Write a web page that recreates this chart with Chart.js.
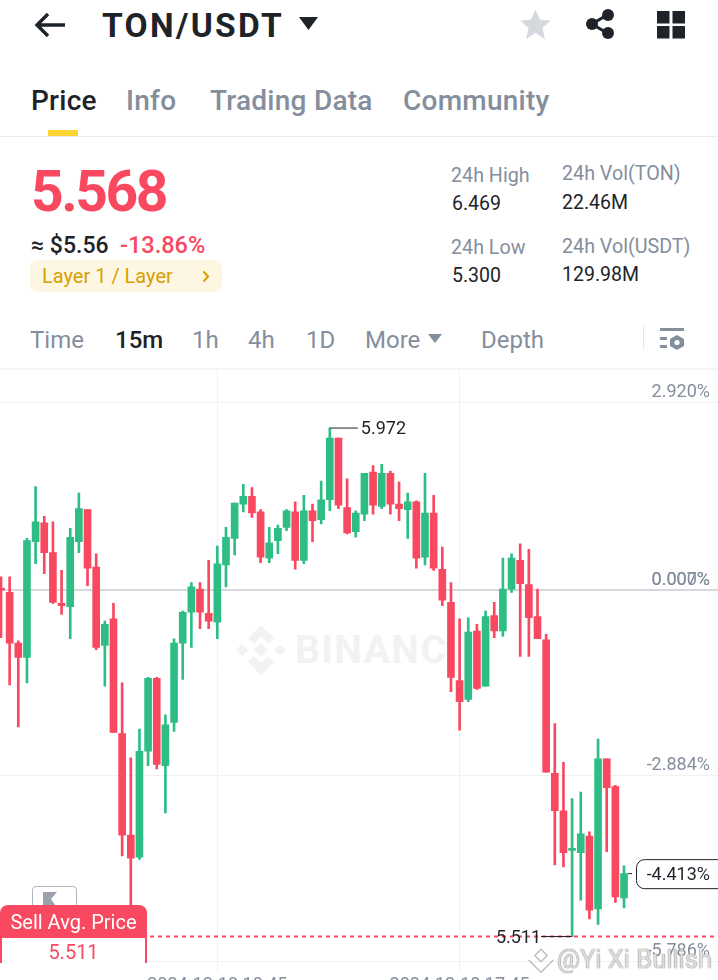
<!DOCTYPE html>
<html>
<head>
<meta charset="utf-8">
<script src="https://cdn.jsdelivr.net/npm/chart.js@4"></script>
<style>
html, body { margin: 0; padding: 0; background: #fff; }
#page { position: relative; width: 718px; height: 980px; overflow: hidden; font-family: Roboto, sans-serif; background: #fff; }
.t { position: absolute; white-space: nowrap; line-height: 1; }
.gray { color: #848E9C; }
.dark { color: #1E2329; }
.red { color: #F84960; }
.tab { font-size: 28px; font-weight: 500; top: 87px; letter-spacing: 0.25px; }
.stat { font-size: 19.7px; }
.val { font-size: 19.5px; color: #1E2329; }
.iv { font-size: 24px; top: 328px; color: #848E9C; }
#chart { position: absolute; left: 0; top: 367px; }
#mark { position: absolute; left: 235px; top: 622px; width: 215px; height: 56px; overflow: hidden; }
#mark span { position: absolute; left: 60px; top: 4px; font-size: 39px; font-weight: 700; color: #F1F2F3; letter-spacing: 1.5px; line-height: 48px; white-space: nowrap; }
#sell { position: absolute; left: 0; top: 905px; width: 147px; height: 58px; }
#sell .head { height: 33px; background: #F84960; border-radius: 8px 8px 0 0; color: #fff; font-size: 20px; line-height: 35px; text-align: center; }
#sell .body { height: 25px; background: #fff; border-left: 2px solid #F84960; border-right: 2px solid #F84960; box-sizing: border-box; color: #F84960; font-size: 20px; line-height: 28px; text-align: center; }
#flagbox { position: absolute; left: 32px; top: 886px; width: 43px; height: 30px; border: 1px solid #AEB4BC; border-radius: 4px; background: #fff; }
#wm { position: absolute; left: 557px; top: 944px; font-size: 25.5px; color: rgba(255,255,255,0.75); text-shadow: 0 0 1px #777, 0 0 1px #777; white-space: nowrap; line-height: 30px; }
</style>
</head>
<body>
<div id="page">
  <svg class="t" style="left:34px;top:11px" width="32" height="28" viewBox="0 0 32 28"><path d="M14 3 L3 14 L14 25 M3 14 H31" fill="none" stroke="#1E2329" stroke-width="3.4"/></svg>
  <div class="t dark" style="left:102px;top:9px;font-size:33.5px;font-weight:700;letter-spacing:2.3px">TON/USDT</div>
  <svg class="t" style="left:299px;top:17px" width="20" height="14"><path d="M0 0 H19 L9.5 13 Z" fill="#1E2329"/></svg>
  <svg class="t" style="left:519px;top:8px" width="33" height="33" viewBox="0 0 24 24"><path d="M12 1 L15.2 8.4 L23 9.2 L17 14.5 L18.9 22.5 L12 18.2 L5.1 22.5 L7 14.5 L1 9.2 L8.8 8.4 Z" fill="#D5D9DE"/></svg>
  <svg class="t" style="left:585px;top:8px" width="30" height="32" viewBox="0 0 30 32"><path d="M22 7 L7 16 L22 25" fill="none" stroke="#1E2329" stroke-width="3"/><circle cx="23" cy="7" r="6" fill="#1E2329"/><circle cx="7" cy="16" r="6" fill="#1E2329"/><circle cx="23" cy="25" r="6" fill="#1E2329"/></svg>
  <svg class="t" style="left:657px;top:11px" width="28" height="28"><rect width="12.5" height="12.5" fill="#1E2329"/><rect x="15.5" width="12.5" height="12.5" fill="#1E2329"/><rect y="15" width="12.5" height="12.5" fill="#1E2329"/><rect x="15.5" y="15" width="12.5" height="12.5" fill="#1E2329"/></svg>

  <div class="t tab dark" style="left:31px">Price</div>
  <div class="t tab gray" style="left:126px">Info</div>
  <div class="t tab gray" style="left:210px">Trading Data</div>
  <div class="t tab gray" style="left:403px">Community</div>
  <div class="t" style="left:48px;top:130px;width:30px;height:6px;background:#FCD535"></div>
  <div class="t" style="left:0;top:136px;width:718px;height:1px;background:#EAECEF"></div>

  <div class="t red" style="left:31px;top:163px;font-size:57px;font-weight:700;letter-spacing:-2.5px">5.568</div>
  <div class="t dark" style="left:31px;top:234px;font-size:23px;font-weight:500">≈ $5.56</div>
  <div class="t red" style="left:120px;top:234px;font-size:23.5px;font-weight:500">-13.86%</div>
  <div class="t" style="left:30px;top:260px;width:192px;height:32px;background:#FDF6E3;border-radius:8px"></div>
  <div class="t" style="left:42px;top:266px;font-size:20px;color:#D89F00">Layer 1 / Layer</div>
  <svg class="t" style="left:202px;top:270px" width="8" height="13"><path d="M1.5 1.5 L6 6.5 L1.5 11.5" fill="none" stroke="#D89F00" stroke-width="2"/></svg>

  <div class="t stat gray" style="left:451px;top:166px">24h High</div>
  <div class="t val" style="left:452px;top:194px">6.469</div>
  <div class="t stat gray" style="left:451px;top:238px">24h Low</div>
  <div class="t val" style="left:452px;top:266px">5.300</div>
  <div class="t stat gray" style="left:562px;top:164px">24h Vol(TON)</div>
  <div class="t val" style="left:562px;top:193px">22.46M</div>
  <div class="t stat gray" style="left:562px;top:237px">24h Vol(USDT)</div>
  <div class="t val" style="left:562px;top:265px">129.98M</div>

  <div class="t iv" style="left:30px">Time</div>
  <div class="t iv" style="left:115px;color:#1E2329;font-weight:500">15m</div>
  <div class="t iv" style="left:192px">1h</div>
  <div class="t iv" style="left:248px">4h</div>
  <div class="t iv" style="left:306px">1D</div>
  <div class="t iv" style="left:365px">More</div>
  <svg class="t" style="left:428px;top:334px" width="14" height="10"><path d="M0 0 H14 L7 9 Z" fill="#848E9C"/></svg>
  <div class="t iv" style="left:481px">Depth</div>
  <div class="t" style="left:643px;top:326px;width:1px;height:24px;background:#E6E8EA"></div>
  <svg class="t" style="left:660px;top:327px" width="26" height="24"><rect x="0" y="1" width="24" height="3" fill="#848E9C"/><rect x="0" y="10" width="7" height="3" fill="#848E9C"/><rect x="0" y="18" width="7" height="3" fill="#848E9C"/><path d="M17 8 L24 12 V19 L17 23 L10 19 V12 Z" fill="#848E9C"/><circle cx="17" cy="15.5" r="2.6" fill="#fff"/></svg>
  <div class="t" style="left:0;top:368px;width:718px;height:2px;background:#F5F5F5"></div>

  <svg class="t" style="left:236px;top:625px" width="50" height="50" viewBox="0 0 50 50"><g fill="#F1F2F3"><path d="M25 0 L38 13 L32 19 L25 12 L18 19 L12 13 Z"/><path d="M25 50 L38 37 L32 31 L25 38 L18 31 L12 37 Z"/><path d="M6 19 L12 25 L6 31 L0 25 Z"/><path d="M44 19 L50 25 L44 31 L38 25 Z"/><path d="M25 18 L32 25 L25 32 L18 25 Z"/></g></svg>
  <div id="mark"><span>BINANCE</span></div>

  <canvas id="chart" width="718" height="613"></canvas>

  <div id="flagbox"><svg style="position:absolute;left:9px;top:5px" width="16" height="22"><path d="M1 0 H15 L9 7 L15 16 H6 V22 H1 Z" fill="#9AA1AB"/></svg></div>
  <div id="sell">
    <div class="head">Sell Avg. Price</div>
    <div class="body">5.511</div>
  </div>

  <svg class="t" style="left:527px;top:946px" width="28" height="28" viewBox="0 0 50 50"><g fill="none" stroke="#BDBDBD" stroke-width="2.5"><path d="M25 6 L36 17 L25 28 L14 17 Z"/><path d="M3 25 L25 47 L47 25"/></g></svg>
  <div id="wm">@Yi Xi Bullish</div>
</div>

<script>
var times = ["04:30","04:45","05:00","05:15","05:30","05:45","06:00","06:15","06:30","06:45",
    "07:00","07:15","07:30","07:45","08:00","08:15","08:30","08:45","09:00","09:15",
    "09:30","09:45","10:00","10:15","10:30","10:45","11:00","11:15","11:30","11:45",
    "12:00","12:15","12:30","12:45","13:00","13:15","13:30","13:45","14:00","14:15",
    "14:30","14:45","15:00","15:15","15:30","15:45","16:00","16:15","16:30","16:45",
    "17:00","17:15","17:30","17:45","18:00","18:15","18:30","18:45","19:00","19:15",
    "19:30","19:45","20:00","20:15","20:30","20:45","21:00","21:15","21:30","21:45",
    "22:00","22:15","22:30"];
var opens = [5.827, 5.823, 5.777, 5.764, 5.869, 5.886, 5.859, 5.813, 5.810, 5.869,
    5.898, 5.846, 5.775, 5.799, 5.695, 5.603, 5.583, 5.679, 5.745, 5.666,
    5.705, 5.777, 5.805, 5.826, 5.804, 5.796, 5.848, 5.872, 5.903, 5.910,
    5.896, 5.854, 5.870, 5.882, 5.896, 5.852, 5.897, 5.889, 5.907, 5.963,
    5.900, 5.878, 5.894, 5.932, 5.901, 5.931, 5.903, 5.898, 5.905, 5.855,
    5.895, 5.844, 5.814, 5.743, 5.726, 5.788, 5.738, 5.802, 5.788, 5.826,
    5.852, 5.830, 5.801, 5.780, 5.659, 5.625, 5.589, 5.587, 5.602, 5.536,
    5.672, 5.647, 5.546];
var closes = [5.825, 5.777, 5.764, 5.870, 5.887, 5.859, 5.814, 5.811, 5.873, 5.899,
    5.845, 5.773, 5.794, 5.696, 5.603, 5.582, 5.679, 5.745, 5.667, 5.703,
    5.777, 5.805, 5.828, 5.805, 5.797, 5.849, 5.873, 5.904, 5.910, 5.895,
    5.855, 5.868, 5.881, 5.897, 5.852, 5.897, 5.888, 5.907, 5.963, 5.902,
    5.877, 5.895, 5.931, 5.902, 5.931, 5.903, 5.899, 5.905, 5.854, 5.895,
    5.845, 5.816, 5.746, 5.724, 5.787, 5.736, 5.801, 5.788, 5.826, 5.854,
    5.831, 5.800, 5.781, 5.660, 5.625, 5.587, 5.591, 5.604, 5.535, 5.672,
    5.646, 5.547, 5.568];
var highs = [5.837, 5.837, 5.779, 5.872, 5.919, 5.892, 5.887, 5.843, 5.881, 5.913,
    5.898, 5.858, 5.797, 5.813, 5.741, 5.673, 5.699, 5.746, 5.746, 5.712,
    5.781, 5.806, 5.832, 5.832, 5.852, 5.865, 5.882, 5.904, 5.921, 5.918,
    5.898, 5.882, 5.884, 5.898, 5.905, 5.911, 5.903, 5.924, 5.972, 5.963,
    5.926, 5.897, 5.931, 5.938, 5.939, 5.933, 5.923, 5.913, 5.906, 5.931,
    5.911, 5.864, 5.832, 5.799, 5.800, 5.794, 5.806, 5.814, 5.854, 5.858,
    5.867, 5.862, 5.826, 5.785, 5.704, 5.669, 5.636, 5.642, 5.606, 5.690,
    5.672, 5.648, 5.575];
var lows = [5.782, 5.739, 5.701, 5.741, 5.849, 5.840, 5.813, 5.803, 5.781, 5.859,
    5.829, 5.771, 5.738, 5.696, 5.584, 5.530, 5.581, 5.666, 5.663, 5.623,
    5.697, 5.744, 5.773, 5.790, 5.790, 5.781, 5.828, 5.857, 5.896, 5.891,
    5.850, 5.850, 5.858, 5.879, 5.844, 5.849, 5.869, 5.885, 5.897, 5.899,
    5.876, 5.873, 5.888, 5.894, 5.899, 5.894, 5.888, 5.872, 5.845, 5.848,
    5.843, 5.811, 5.733, 5.698, 5.724, 5.735, 5.738, 5.782, 5.783, 5.823,
    5.765, 5.765, 5.781, 5.660, 5.576, 5.574, 5.511, 5.544, 5.527, 5.522,
    5.588, 5.542, 5.537];

var priceTicks = [5.9951, 5.825, 5.657, 5.488];
var percentLabels = ["2.920%", "0.000%", "-2.884%", "-5.786%"];
var timeTicks = [25, 53];
var tickDate = "2024-12-10 ";

var highLabel = "5.972";
var lowLabel = "5.511";
var lastPrice = 5.568;
var lastPercent = "-4.413%";
var sellPrice = 5.511;
var extraPercent = "0.007%";

var GREEN = "#2EBD85";
var RED = "#F84960";

function candleColor(i) {
    return closes[i] >= opens[i] ? GREEN : RED;
}

// price markers on top of the candles
var markers = {
    id: "markers",
    afterDatasetsDraw: function (chart) {
        var c = chart.ctx;
        var xs = chart.scales.x;
        var ys = chart.scales.y;
        c.save();
        c.font = "18px Roboto";
        c.textBaseline = "middle";

        // sell avg dashed line
        var sy = ys.getPixelForValue(sellPrice);
        c.strokeStyle = RED;
        c.lineWidth = 2;
        c.setLineDash([4, 4]);
        c.beginPath();
        c.moveTo(150, sy);
        c.lineTo(718, sy);
        c.stroke();
        c.setLineDash([]);

        // highest
        var hi = highs.indexOf(5.972);
        var hx = xs.getPixelForValue(hi);
        var hy = ys.getPixelForValue(highs[hi]);
        c.strokeStyle = "#1E2329";
        c.lineWidth = 1;
        c.beginPath();
        c.moveTo(hx, hy);
        c.lineTo(hx + 28, hy);
        c.stroke();
        c.fillStyle = "#1E2329";
        c.textAlign = "left";
        c.fillText(highLabel, hx + 31, hy + 1);

        // lowest
        var li = lows.indexOf(5.511);
        var lx = xs.getPixelForValue(li);
        var ly = ys.getPixelForValue(lows[li]);
        c.beginPath();
        c.moveTo(lx, ly);
        c.lineTo(lx - 31, ly);
        c.stroke();
        c.textAlign = "right";
        c.fillText(lowLabel, lx - 31, ly + 1.5);

        // second label under the 0% one
        c.fillStyle = "#848E9C";
        c.fillText(extraPercent, 710, ys.getPixelForValue(5.825) - 10);

        // current price pill
        var py = ys.getPixelForValue(lastPrice);
        c.beginPath();
        c.moveTo(628, py);
        c.lineTo(632, py);
        c.stroke();
        c.fillStyle = "#fff";
        c.beginPath();
        c.roundRect(636.5, py - 14, 90, 29, 8);
        c.fill();
        c.stroke();
        c.fillStyle = "#1E2329";
        c.fillText(lastPercent, 710, py + 1.5);
        c.restore();
    }
};

var wickData = [];
var bodyData = [];
var colors = [];
for (var i = 0; i < times.length; i++) {
    wickData.push({ x: i, y: [lows[i], highs[i]] });
    bodyData.push({ x: i, y: [opens[i], closes[i]] });
    colors.push(candleColor(i));
}

new Chart(document.getElementById("chart"), {
    type: "bar",
    data: {
        labels: times,
        datasets: [{
            label: "Wick",
            data: wickData,
            backgroundColor: colors,
            barThickness: 2,
            grouped: false
        }, {
            label: "Body",
            data: bodyData,
            backgroundColor: colors,
            barThickness: 7,
            grouped: false
        }]
    },
    options: {
        responsive: false,
        animation: false,
        devicePixelRatio: 1,
        layout: { padding: 0, autoPadding: false },
        plugins: { legend: { display: false }, tooltip: { enabled: false } },
        scales: {
            x: {
                type: "linear",
                offset: false,
                min: -0.115,
                max: 82.86,
                afterBuildTicks: function (scale) {
                    scale.ticks = timeTicks.map(function (v) { return { value: v }; });
                },
                afterFit: function (scale) { scale.height = 17; },
                border: { display: false },
                grid: { offset: false, color: "#F0F1F2", lineWidth: 1, tickLength: 10 },
                ticks: {
                    autoSkip: false,
                    maxRotation: 0,
                    padding: 2,
                    color: "#848E9C",
                    font: { family: "Roboto", size: 18 },
                    callback: function (v) { return tickDate + times[v]; }
                }
            },
            y: {
                position: "right",
                min: 5.487,
                max: 6.0248,
                afterBuildTicks: function (scale) {
                    scale.ticks = priceTicks.map(function (v) { return { value: v }; });
                },
                afterFit: function (scale) { scale.width = 0; },
                border: { display: false },
                grid: {
                    drawTicks: false,
                    color: function (ctx) { return ctx.index === 1 ? "#D5D8DE" : "#F0F1F2"; },
                    lineWidth: function (ctx) { return ctx.index === 1 ? 2 : 1; }
                },
                ticks: {
                    mirror: true,
                    padding: -8,
                    labelOffset: -10,
                    color: "#848E9C",
                    font: { family: "Roboto", size: 18 },
                    callback: function (v) { return percentLabels[priceTicks.indexOf(v)]; }
                }
            }
        }
    },
    plugins: [markers]
});
</script>
</body>
</html>
